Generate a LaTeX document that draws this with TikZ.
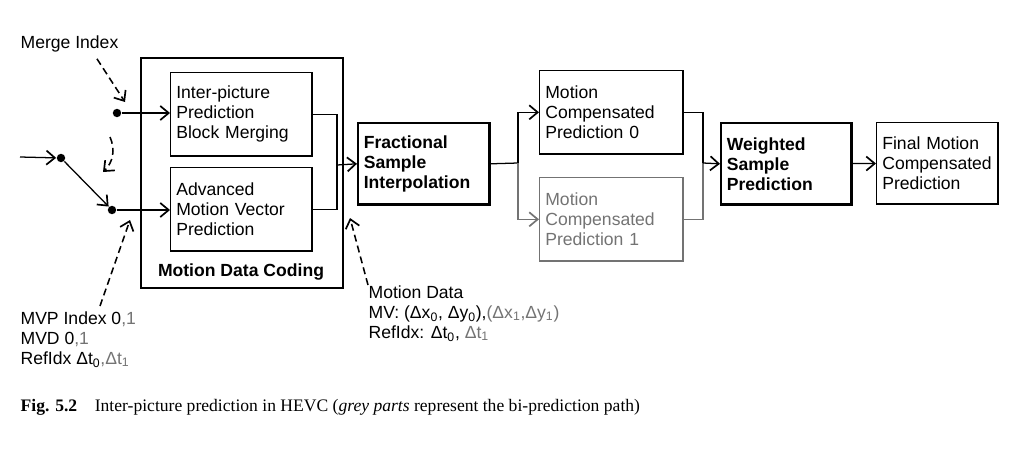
\documentclass[tikz,border=0pt]{standalone}
\usepackage{fontspec}
\setmainfont{Liberation Sans}
\newfontfamily\capfont{Liberation Serif}
\usepackage{xcolor}
\usetikzlibrary{arrows.meta, positioning}
\definecolor{bipred}{gray}{0.45}
\begin{document}
\begin{tikzpicture}[
        x=0.025cm, y=-0.025cm,
        every node/.style={font=\fontsize{12.5}{14.2}\selectfont},
        blk/.style={rectangle, draw, line width=1pt, inner sep=4pt, align=left, anchor=north west, text width=#1},
        blk/.default=2.9cm,
        bold/.style={font=\fontsize{12.5}{14.2}\selectfont\bfseries, line width=1.7pt},
        dot/.style={circle, fill, inner sep=0pt, minimum size=6pt},
        lbl/.style={anchor=north west, inner sep=0pt, align=left},
        hint/.style={->, dashed, line width=1.1pt, dash pattern=on 5pt off 3pt},
        line width=0.9pt,
        >={Straight Barb[length=6pt, width=10pt, line width=1.2pt]}
    ]
        \useasboundingbox (0,0) rectangle (1016,453);

        % motion data coding
        \node[draw, line width=1.7pt, minimum width=5.05cm, minimum height=5.75cm, anchor=north west] (mdc) at (140,57) {};
        \node[bold, anchor=south] (mdclbl) at (241,286) {Motion Data Coding};
        \node[blk=3.25cm, minimum height=2.08cm, anchor=north west] (merge) at (170,72) {Inter-picture\\Prediction\\Block Merging};
        \node[blk=3.25cm, minimum height=2.08cm, anchor=north west] (amvp) at (170,167) {Advanced\\Motion Vector\\Prediction};

        % switch
        \node[dot] (d1) at (117,113) {};
        \node[dot] (d2) at (112,210) {};
        \node[dot] (d0) at (61,158) {};
        \coordinate (in) at (20,157);
        \draw[->] (in) -- (d0);
        \draw[->] (d0) -- (d2);
        \draw[->] (d1) -- (merge.west |- d1);
        \draw[->] (d2) -- (amvp.west |- d2);

        % main chain
        \node[blk=3.0cm, bold, minimum height=2.03cm] (frac) at (357,122) {Fractional\\Sample\\Interpolation};
        \node[blk=3.3cm, minimum height=2.08cm] (mc0) at (539,70) {Motion\\Compensated\\Prediction 0};
        \node[blk=3.3cm, minimum height=2.08cm, draw=bipred, text=bipred] (mc1) at (539,177) {Motion\\Compensated\\Prediction 1};
        \node[blk=2.98cm, bold, minimum height=2.03cm] (wsp) at (720,122) {Weighted\\Sample\\Prediction};
        \node[blk=2.75cm, minimum height=2.03cm] (final) at (876,122) {Final Motion\\Compensated\\Prediction};

        \draw (merge.east) -| (337,165);
        \draw (amvp.east) -| (337,165);
        \draw[->] (337,165) -- (frac.west);
        \draw (frac.east) -- (518,163);
        \draw[->] (518,163) |- (mc0.west);
        \draw[->, bipred] (518,163) |- (mc1.west);
        \draw (mc0.east) -| (703,163);
        \draw[bipred] (mc1.east) -| (703,163);
        \draw[->] (703,163) -- (wsp.west);
        \draw[->] (wsp) -- (final);

        % side information
        \node[anchor=west, inner sep=0pt] (mi) at (20,44) {Merge Index};
        \node[lbl] (mvp) at (20,311) {MVP Index 0\textcolor{bipred}{,1}\\MVD 0\textcolor{bipred}{,1}\\RefIdx Δt\textsubscript{0}\textcolor{bipred}{,Δt\textsubscript{1}}};
        \node[lbl] (md) at (368,285) {Motion Data\\MV: (Δx\textsubscript{0}, Δy\textsubscript{0}),\textcolor{bipred}{(Δx\textsubscript{1},Δy\textsubscript{1})}\\RefIdx: Δt\textsubscript{0}, \textcolor{bipred}{Δt\textsubscript{1}}};
        \draw[hint] (mi.south east) ++(-22,6) -- (125,102);
        \draw[hint] (110,137) to[bend left=35] (103,172);
        \draw[hint] (mvp.north west) ++(80,-5) -- (130,220);
        \draw[hint] (md.north west) -- (350,218);

        % caption
        \node[anchor=west, inner sep=0pt, font=\capfont\fontsize{12.5}{14}\selectfont] (cap) at (20,407) {\textbf{Fig. 5.2}\hspace{1em}Inter-picture prediction in HEVC (\textit{grey parts} represent the bi-prediction path)};
    \end{tikzpicture}
\end{document}
